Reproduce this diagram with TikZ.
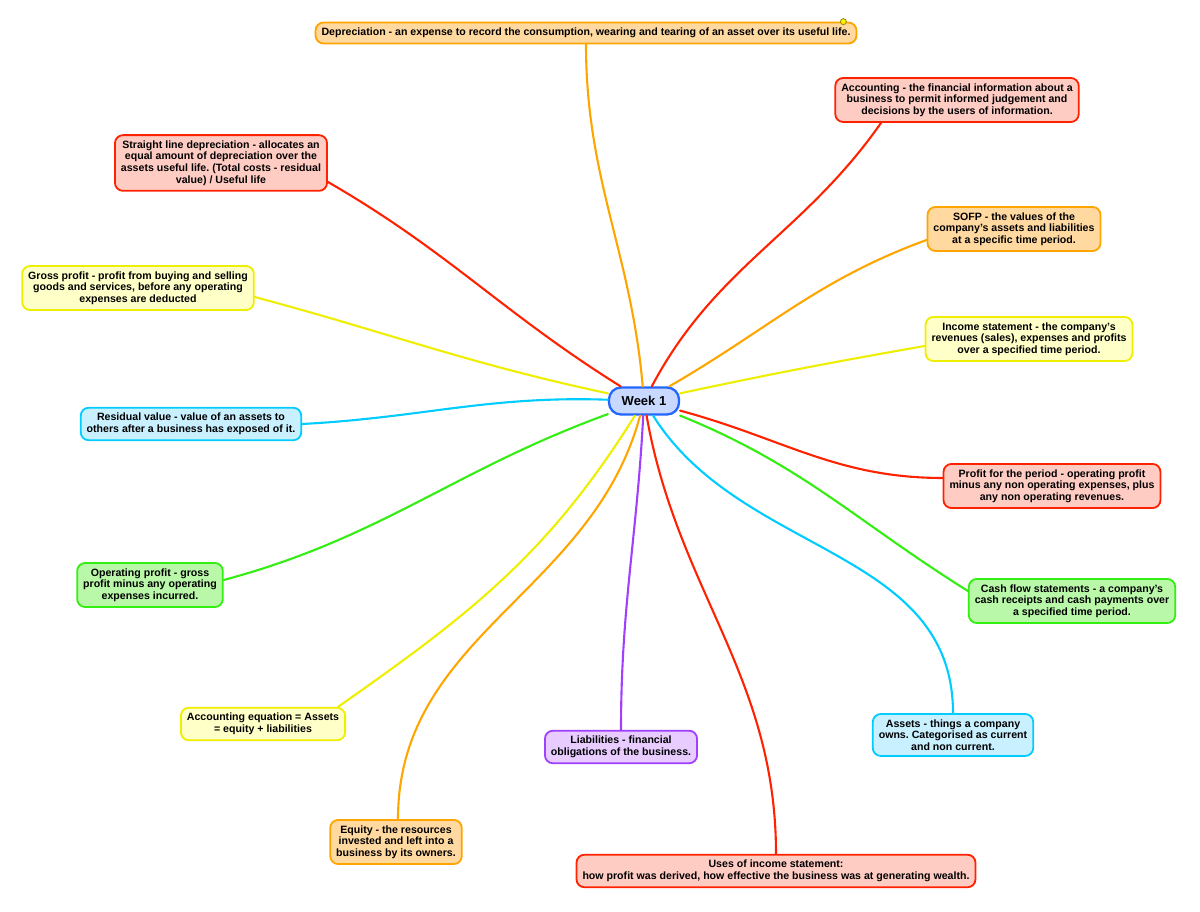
\documentclass[tikz,border=0pt]{standalone}
\usepackage{fontspec}
\setmainfont{Liberation Sans}
\usetikzlibrary{
    positioning,
    arrows.meta
}
\definecolor{linered}{HTML}{FF2200}
\definecolor{fillred}{HTML}{FFCCC4}
\definecolor{lineorange}{HTML}{FFA500}
\definecolor{fillorange}{HTML}{FFD9A0}
\definecolor{lineyellow}{HTML}{EEEE00}
\definecolor{fillyellow}{HTML}{FFFFC8}
\definecolor{linecyan}{HTML}{00CCFF}
\definecolor{fillcyan}{HTML}{C8F0FF}
\definecolor{linegreen}{HTML}{33EE11}
\definecolor{fillgreen}{HTML}{B8F8A8}
\definecolor{linepurple}{HTML}{A040FF}
\definecolor{fillpurple}{HTML}{E8CCFF}
\definecolor{lineblue}{HTML}{2266FF}
\definecolor{fillblue}{HTML}{C8D8FF}
\tikzset{%
    topic/.style={%
        rectangle,
        draw,
        rounded corners=8pt,
        line width=1.8pt,
        inner xsep=6pt,
        inner ysep=5.5pt,
        align=center,
        font=\fontsize{10.6}{11.6}\selectfont\bfseries
    },
    red topic/.style={%
        topic,
        draw=linered,
        fill=fillred,
    },
    orange topic/.style={%
        topic,
        draw=lineorange,
        fill=fillorange,
    },
    yellow topic/.style={%
        topic,
        draw=lineyellow,
        fill=fillyellow,
    },
    cyan topic/.style={%
        topic,
        draw=linecyan,
        fill=fillcyan,
    },
    green topic/.style={%
        topic,
        draw=linegreen,
        fill=fillgreen,
    },
    purple topic/.style={%
        topic,
        draw=linepurple,
        fill=fillpurple,
    },
    central topic/.style={%
        topic,
        draw=lineblue,
        fill=fillblue,
        rounded corners=12pt,
        line width=2.3pt,
        minimum width=70pt,
        minimum height=27pt,
        font=\fontsize{13}{15}\selectfont\bfseries
    },
    branch/.style={%
        line width=2.1pt,
        line cap=round,
    },
}

\begin{document}
\frenchspacing
\begin{tikzpicture}[x=1pt, y=1pt]

    \useasboundingbox (0,0) rectangle (1200,912);

    \node[central topic] (week) at (644,511) {Week 1};

    \node[orange topic] (depreciation) at (586,879) {Depreciation - an expense to record the consumption, wearing and tearing of an asset over its useful life.};
    \node[red topic] (accounting) at (957,812) {Accounting - the financial information about a\\business to permit informed judgement and\\decisions by the users of information.};
    \node[red topic] (straightline) at (221,749) {Straight line depreciation - allocates an\\equal amount of depreciation over the\\assets useful life. (Total costs - residual\\value) / Useful life};
    \node[orange topic] (sofp) at (1014,683) {SOFP - the values of the\\company's assets and liabilities\\at a specific time period.};
    \node[yellow topic] (grossprofit) at (138,624) {Gross profit - profit from buying and selling\\goods and services, before any operating\\expenses are deducted};
    \node[yellow topic] (incomestatement) at (1029,573) {Income statement - the company's\\revenues (sales), expenses and profits\\over a specified time period.};
    \node[cyan topic] (residual) at (191,488) {Residual value - value of an assets to\\others after a business has exposed of it.};
    \node[red topic] (profitperiod) at (1052,426) {Profit for the period - operating profit\\minus any non operating expenses, plus\\any non operating revenues.};
    \node[green topic] (operating) at (150,327) {Operating profit - gross\\profit minus any operating\\expenses incurred.};
    \node[green topic] (cashflow) at (1072,311) {Cash flow statements - a company's\\cash receipts and cash payments over\\a specified time period.};
    \node[yellow topic] (equation) at (263,188) {Accounting equation = Assets\\= equity + liabilities};
    \node[purple topic] (liabilities) at (621,165) {Liabilities - financial\\obligations of the business.};
    \node[cyan topic] (assets) at (953,177) {Assets - things a company\\owns. Categorised as current\\and non current.};
    \node[orange topic] (equity) at (396,70) {Equity - the resources\\invested and left into a\\business by its owners.};
    \node[red topic] (uses) at (776,41) {Uses of income statement:\\how profit was derived, how effective the business was at generating wealth.};

    \node[circle, draw=olive, fill=yellow, line width=0.8pt, inner sep=0pt, minimum size=6pt] (marker) at ([xshift=-14pt]depreciation.north east) {};

    \draw[branch, lineorange] (week) to[out=95, in=-90] (depreciation.south);
    \draw[branch, linered] (week) to[out=62, in=-125] ([xshift=-76pt]accounting.south);
    \draw[branch, linered] (week) to[out=148, in=-30] ([yshift=-19pt]straightline.east);
    \draw[branch, lineorange] (week) to[out=30, in=-160] ([yshift=-11pt]sofp.west);
    \draw[branch, lineyellow] (week) to[out=168, in=-15] ([yshift=-9pt]grossprofit.east);
    \draw[branch, lineyellow] (week) to[out=12, in=-170] ([yshift=-7pt]incomestatement.west);
    \draw[branch, linecyan] (week) to[out=178, in=3] (residual.east);
    \draw[branch, linered] (week) to[out=-15, in=180] ([yshift=8pt]profitperiod.west);
    \draw[branch, linegreen] (week) to[out=-160, in=15] ([yshift=5pt]operating.east);
    \draw[branch, linegreen] (week) to[out=-22, in=148] ([yshift=10pt]cashflow.west);
    \draw[branch, lineyellow] (week) to[out=-122, in=35] ([xshift=-8pt]equation.north east);
    \draw[branch, linepurple] (week) to[out=-93, in=90] (liabilities.north);
    \draw[branch, linecyan] (week) to[out=-58, in=90] (assets.north);
    \draw[branch, lineorange] (week) to[out=-105, in=90] ([xshift=2pt]equity.north);
    \draw[branch, linered] (week) to[out=-80, in=90] (uses.north);

\end{tikzpicture}
\end{document}
